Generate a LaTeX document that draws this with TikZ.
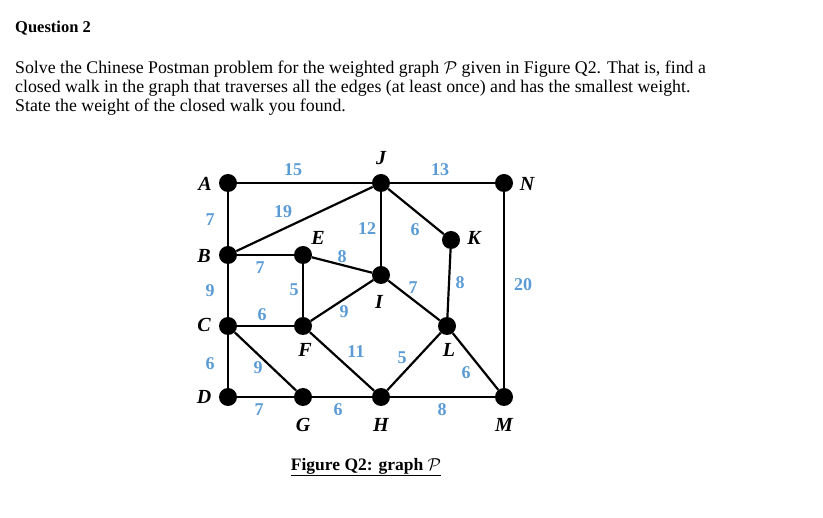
\documentclass[tikz,border=0pt]{standalone}
\usepackage{fontspec}
\setmainfont{Liberation Serif}
\begin{document}
\begin{tikzpicture}[x=1pt,y=-1pt,
  vtx/.style={circle,fill=black,inner sep=0pt,minimum size=18pt},
  edge/.style={line width=2.2pt},
  wt/.style={text=wcol,font=\fontsize{18}{18}\selectfont\bfseries,inner sep=0pt},
  lab/.style={font=\fontsize{20}{20}\selectfont\bfseries\itshape,inner sep=0pt}]
\definecolor{wcol}{RGB}{91,155,213}
\useasboundingbox (0,0) rectangle (823,518);
\node[anchor=west,inner sep=0pt,font=\fontsize{16.5}{16.5}\selectfont\bfseries] (title) at (15,28) {Question 2};
\node[anchor=north west,align=left,inner sep=0pt,font=\fontsize{17.8}{18.7}\selectfont] (para) at (15,61) {Solve the Chinese Postman problem for the weighted graph $\mathcal{P}$ given in Figure Q2. That is, find a\\closed walk in the graph that traverses all the edges (at least once) and has the smallest weight.\\State the weight of the closed walk you found.};
\foreach \n/\x/\y in {A/228/183,J/381/183,N/504/183,K/451/240,B/228/255,E/303/255,I/381/275,C/228/326,F/303/326,L/447/326,D/228/397,G/303/397,H/381/397,M/504/397}
  \node[vtx] (\n) at (\x,\y) {};
\foreach \a/\b in {A/J,J/N,A/B,B/J,J/I,J/K,B/E,E/I,E/F,B/C,C/F,F/I,I/L,K/L,N/M,C/D,C/G,F/H,H/L,L/M,D/G,G/H,H/M}
  \draw[edge] (\a) -- (\b);
\foreach \t/\x/\y/\nm in {15/293/170/w1,13/440/170/w2,7/210/220/w3,19/283/212/w4,12/367/229/w5,6/415/230/w6,8/342/257/w7,7/260/268/w8,5/294/290/w9,8/460/283/w10,20/523/285/w11,9/210/291/w12,7/413/288/w13,6/262/315/w14,9/344/312/w15,11/356/352/w16,5/402/358/w17,6/466/373/w18,6/210/364/w19,9/258/368/w20,7/259/410/w21,6/338/410/w22,8/442/410/w23}
  \node[wt] (\nm) at (\x,\y) {\t};
\foreach \t/\x/\y in {J/381/158,A/205/184,N/527/184,K/474/238,E/318/238,B/204/256,I/379/302,C/204/325,F/305/350,L/449/350,D/204/397,G/303/425,H/381/425,M/504/425}
  \node[lab] (l\t) at (\x,\y) {\t};
\node[font=\fontsize{17.5}{17.5}\selectfont\bfseries,inner sep=0pt] (cap) at (366,467) {\underline{Figure Q2: graph $\mathcal{P}$}};
\end{tikzpicture}
\end{document}
